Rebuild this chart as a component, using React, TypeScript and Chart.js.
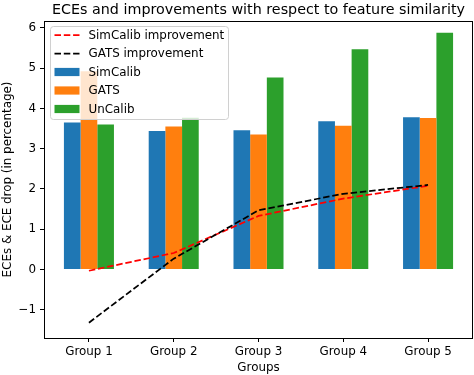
import React, { useEffect, useRef } from 'react';
import { Chart, registerables } from 'chart.js';

Chart.register(...registerables);

const categories = ['Group 1', 'Group 2', 'Group 3', 'Group 4', 'Group 5'];
const simCalib = [3.65, 3.44, 3.46, 3.68, 3.78];
const gats = [4.92, 3.55, 3.35, 3.57, 3.76];
const unCalib = [3.6, 3.77, 4.77, 5.47, 5.88];
const simCalibImprovement = [-0.03, 0.41, 1.33, 1.76, 2.08];
const gatsImprovement = [-1.32, 0.27, 1.47, 1.88, 2.1];
const yTicks = [-1, 0, 1, 2, 3, 4, 5, 6];

const FONT = 'DejaVu Sans';
const FS = 11.9;

const toXY = (arr: number[]) => arr.map((v, i) => ({ x: i, y: v }));

const frameLegendPlugin = {
  id: 'frameLegend',
  afterDatasetsDraw(chart: any) {
    const { ctx, chartArea: a } = chart;
    const ds = chart.data.datasets;
    ctx.save();
    const lx = a.left + 6.5;
    const ly = a.top + 5.5;
    const lw = 178;
    const lh = 93;
    ctx.beginPath();
    (ctx as any).roundRect(lx, ly, lw, lh, 3);
    ctx.fillStyle = 'rgba(255,255,255,0.8)';
    ctx.fill();
    ctx.strokeStyle = '#d0d0d0';
    ctx.lineWidth = 1;
    ctx.stroke();
    const hx0 = lx + 4;
    const hLen = 25;
    const tx = lx + 38;
    const y0 = ly + 8.5;
    const dy = 18.5;
    ctx.font = `${FS}px "${FONT}"`;
    ctx.textBaseline = 'middle';
    ctx.textAlign = 'left';
    ds.forEach((d: any, i: number) => {
      const y = y0 + i * dy;
      if (d.type === 'line') {
        ctx.beginPath();
        ctx.setLineDash(d.borderDash || []);
        ctx.strokeStyle = d.borderColor;
        ctx.lineWidth = d.borderWidth;
        ctx.moveTo(hx0, y);
        ctx.lineTo(hx0 + hLen, y);
        ctx.stroke();
        ctx.setLineDash([]);
      } else {
        ctx.fillStyle = d.backgroundColor;
        ctx.fillRect(hx0, y - 4.1, hLen, 8.2);
      }
      ctx.fillStyle = '#000';
      ctx.fillText(d.label, tx, y + 0.5);
    });
    ctx.restore();
  },
  afterDraw(chart: any) {
    const { ctx, chartArea: a } = chart;
    ctx.save();
    ctx.strokeStyle = '#000';
    ctx.lineWidth = 1;
    ctx.strokeRect(Math.round(a.left) + 0.5, Math.round(a.top) + 0.5, Math.round(a.right - a.left) - 1, Math.round(a.bottom - a.top));
    ctx.restore();
  },
};

export default function App() {
  const ref = useRef<HTMLCanvasElement | null>(null);
  useEffect(() => {
    document.body.style.margin = '0';
    const canvas = ref.current;
    if (!canvas) return;
    const chart = new Chart(canvas, {
      type: 'bar',
      data: {
        datasets: [
          {
            type: 'line',
            label: 'SimCalib improvement',
            data: toXY(simCalibImprovement),
            borderColor: '#ff0000',
            backgroundColor: '#ff0000',
            borderWidth: 1.75,
            borderDash: [6.5, 2.8],
            pointRadius: 0,
            fill: false,
            tension: 0,
            order: 1,
          } as any,
          {
            type: 'line',
            label: 'GATS improvement',
            data: toXY(gatsImprovement),
            borderColor: '#000000',
            backgroundColor: '#000000',
            borderWidth: 1.75,
            borderDash: [6.5, 2.8],
            pointRadius: 0,
            fill: false,
            tension: 0,
            order: 0,
          } as any,
          {
            type: 'bar',
            label: 'SimCalib',
            data: toXY(simCalib),
            backgroundColor: '#1f77b4',
            borderWidth: 0,
            order: 2,
          } as any,
          {
            type: 'bar',
            label: 'GATS',
            data: toXY(gats),
            backgroundColor: '#ff7f0e',
            borderWidth: 0,
            order: 2,
          } as any,
          {
            type: 'bar',
            label: 'UnCalib',
            data: toXY(unCalib),
            backgroundColor: '#2ca02c',
            borderWidth: 0,
            order: 2,
          } as any,
        ],
      },
      options: {
        animation: false,
        responsive: false,
        events: [],
        layout: { padding: { left: 0, right: 1, top: 0, bottom: 0 } },
        datasets: { bar: { categoryPercentage: 0.59, barPercentage: 1 } } as any,
        plugins: {
          legend: { display: false },
          tooltip: { enabled: false },
          title: {
            display: true,
            fullSize: false,
            text: 'ECEs and improvements with respect to feature similarity',
            color: '#000',
            font: { family: FONT, size: 14.3, weight: 'normal' },
            padding: { top: 2, bottom: 1.84 },
          },
        },
        scales: {
          x: {
            type: 'linear',
            min: -0.53,
            max: 4.53,
            offset: false,
            afterBuildTicks: (scale: any) => {
              scale.ticks = categories.map((_, i) => ({ value: i }));
            },
            afterFit: (scale: any) => {
              scale.height = 37;
            },
            ticks: {
              color: '#000',
              font: { family: FONT, size: FS },
              padding: 3,
              maxRotation: 0,
              autoSkip: false,
              callback: (v: any) => categories[Math.round(Number(v))] ?? '',
            },
            grid: { display: true, drawOnChartArea: false, drawTicks: true, tickLength: 4, color: '#000', offset: false },
            border: { display: false },
            title: {
              display: true,
              text: 'Groups',
              color: '#000',
              font: { family: FONT, size: FS },
              padding: { top: 0, bottom: 0 },
            },
          },
          y: {
            type: 'linear',
            min: -1.7,
            max: 6.17,
            afterBuildTicks: (scale: any) => {
              scale.ticks = yTicks.map((v) => ({ value: v }));
            },
            afterFit: (scale: any) => {
              scale.width = 44;
            },
            ticks: {
              color: '#000',
              font: { family: FONT, size: FS },
              padding: 4,
              callback: (v: any) => {
                const n = Number(v);
                return n < 0 ? '\u2212' + Math.abs(n) : String(n);
              },
            },
            grid: { display: true, drawOnChartArea: false, drawTicks: true, tickLength: 4, color: '#000' },
            border: { display: false },
            title: {
              display: true,
              text: 'ECEs & ECE drop (in percentage)',
              color: '#000',
              font: { family: FONT, size: FS },
              padding: { top: 1, bottom: 0 },
            },
          },
        },
      } as any,
      plugins: [frameLegendPlugin as any],
    });
    return () => chart.destroy();
  }, []);
  return (
    <div style={{ position: 'absolute', left: 0, top: 0, width: 474, height: 375 }}>
      <canvas ref={ref} width={474} height={375} />
    </div>
  );
}
